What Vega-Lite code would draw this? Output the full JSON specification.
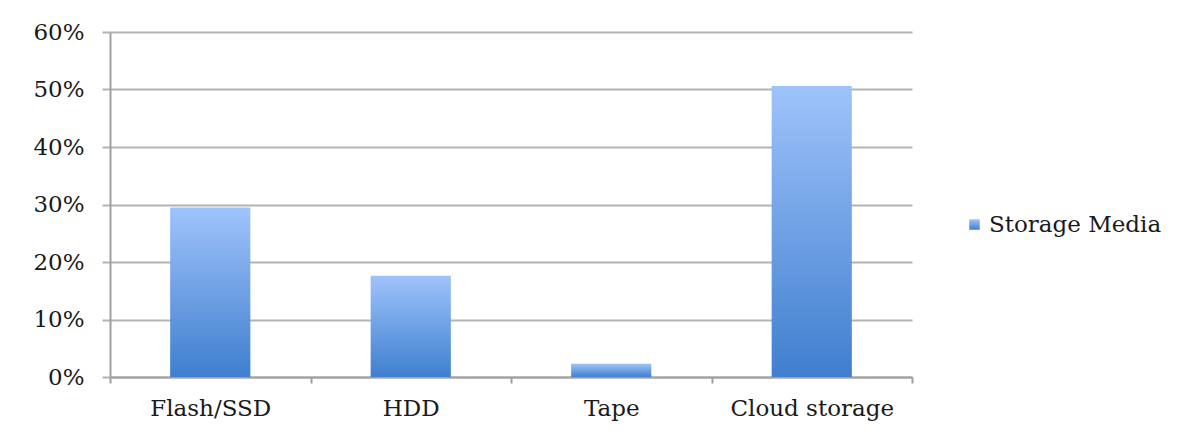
{
  "$schema": "https://vega.github.io/schema/vega-lite/v6.json",
  "description": "Storage media share, bar chart with gradient bars.",
  "autosize": "none",
  "width": 802,
  "height": 345,
  "padding": {"left": 110, "top": 32, "right": 268, "bottom": 59},
  "background": "white",
  "data": {
    "values": [
      {"media": "Flash/SSD", "share": 0.295, "series": "Storage Media"},
      {"media": "HDD", "share": 0.176, "series": "Storage Media"},
      {"media": "Tape", "share": 0.023, "series": "Storage Media"},
      {"media": "Cloud storage", "share": 0.506, "series": "Storage Media"}
    ]
  },
  "mark": {
    "type": "bar",
    "width": {"band": 0.4},
    "color": {
      "gradient": "linear",
      "x1": 0, "y1": 0, "x2": 0, "y2": 1,
      "stops": [
        {"offset": 0, "color": "#9fc3fb"},
        {"offset": 1, "color": "#3f7fce"}
      ]
    }
  },
  "encoding": {
    "x": {
      "field": "media",
      "type": "nominal",
      "sort": ["Flash/SSD", "HDD", "Tape", "Cloud storage"],
      "scale": {"paddingInner": 0, "paddingOuter": 0},
      "axis": {
        "title": null,
        "labelAngle": 0,
        "tickBand": "extent",
        "tickSize": 6,
        "tickWidth": 2,
        "tickColor": "#a0a0a0",
        "domainColor": "#a0a0a0",
        "domainWidth": 2,
        "labelPadding": 14,
        "labelFont": "DejaVu Serif",
        "labelFontSize": 23,
        "labelColor": "#1a1a1a",
        "grid": false
      }
    },
    "y": {
      "field": "share",
      "type": "quantitative",
      "scale": {"domain": [0, 0.6], "nice": false},
      "axis": {
        "title": null,
        "format": ".0%",
        "values": [0, 0.1, 0.2, 0.3, 0.4, 0.5, 0.6],
        "tickSize": 8,
        "tickWidth": 2,
        "tickColor": "#b3b3b3",
        "domainColor": "#a0a0a0",
        "domainWidth": 2,
        "gridColor": "#b3b3b3",
        "gridWidth": 2,
        "labelPadding": 18,
        "labelFont": "DejaVu Serif",
        "labelFontSize": 23,
        "labelColor": "#1a1a1a"
      }
    },
    "opacity": {
      "field": "series",
      "type": "nominal",
      "scale": {"range": [1]},
      "legend": {
        "title": null,
        "orient": "none",
        "legendX": 853,
        "legendY": 181,
        "symbolType": "square",
        "symbolSize": 110,
        "symbolFillColor": "#5a93de",
        "symbolStrokeWidth": 0,
        "labelFont": "DejaVu Serif",
        "labelFontSize": 23,
        "labelColor": "#1a1a1a",
        "labelLimit": 400,
        "labelOffset": 3
      }
    }
  },
  "config": {
    "view": {"stroke": null}
  }
}
